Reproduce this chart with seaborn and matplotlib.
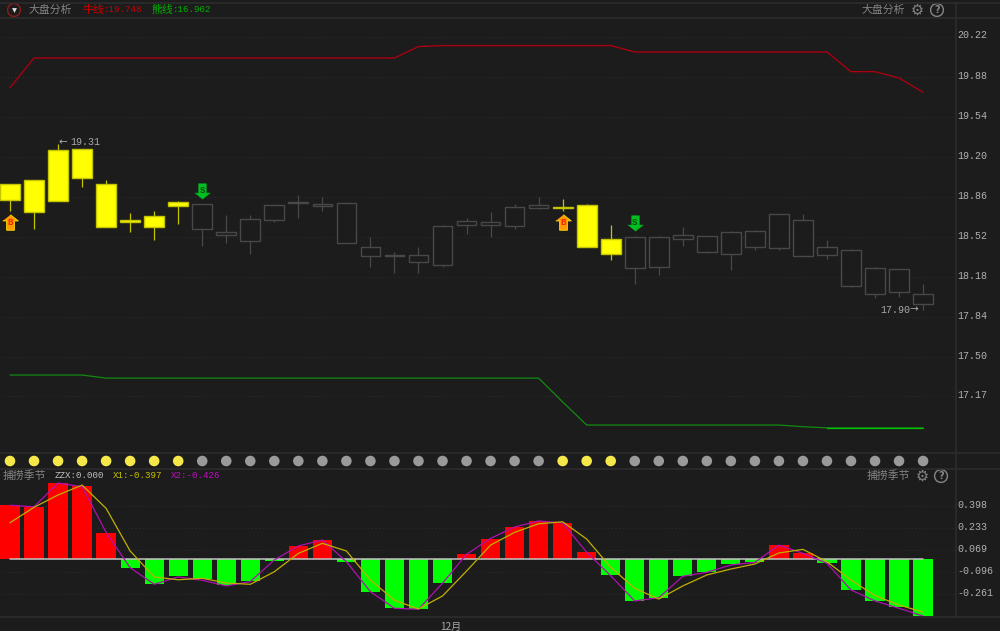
import matplotlib
matplotlib.use("Agg")
import matplotlib.pyplot as plt
import matplotlib.transforms as mtrans
import numpy as np
import pandas as pd
import seaborn as sns

# --- donnees ---
body_top = [18.969, 19.003, 19.258, 19.266, 18.969, 18.664, 18.698, 18.817, 18.800, 18.562, 18.673, 18.791, 18.817,
            18.800, 18.808, 18.435, 18.367, 18.367, 18.613, 18.656, 18.647, 18.774, 18.791, 18.774, 18.791, 18.503,
            18.520, 18.520, 18.537, 18.528, 18.562, 18.571, 18.715, 18.664, 18.435, 18.410, 18.257, 18.249, 18.037]
body_bot = [18.834, 18.732, 18.825, 19.020, 18.605, 18.647, 18.605, 18.783, 18.588, 18.537, 18.486, 18.664, 18.808,
            18.783, 18.469, 18.359, 18.359, 18.308, 18.283, 18.622, 18.622, 18.613, 18.766, 18.766, 18.435, 18.376,
            18.257, 18.266, 18.503, 18.393, 18.376, 18.435, 18.427, 18.359, 18.367, 18.104, 18.037, 18.054, 17.952]
high = [18.969, 19.003, 19.31, 19.266, 19.003, 18.723, 18.740, 18.825, 18.800, 18.706, 18.706, 18.800, 18.876,
        18.859, 18.817, 18.520, 18.393, 18.435, 18.622, 18.681, 18.732, 18.800, 18.859, 18.842, 18.800, 18.622,
        18.528, 18.528, 18.605, 18.528, 18.571, 18.579, 18.715, 18.715, 18.495, 18.418, 18.266, 18.249, 18.121]
low = [18.740, 18.588, 18.825, 18.944, 18.605, 18.562, 18.495, 18.630, 18.444, 18.469, 18.376, 18.647, 18.681,
       18.740, 18.469, 18.266, 18.215, 18.215, 18.266, 18.545, 18.520, 18.588, 18.757, 18.740, 18.435, 18.325,
       18.121, 18.198, 18.444, 18.384, 18.240, 18.410, 18.410, 18.359, 18.333, 18.096, 18.003, 18.011, 17.90]
hot_days = [0, 1, 2, 3, 4, 5, 6, 7, 23, 24, 25]
buy_days = [0, 23]
sell_days = [8, 26]

bull_line = [19.786, 20.038, 20.038, 20.038, 20.038, 20.038, 20.038, 20.038, 20.038, 20.038, 20.038, 20.038, 20.038,
             20.038, 20.038, 20.038, 20.038, 20.135, 20.143, 20.143, 20.143, 20.143, 20.143, 20.143, 20.143, 20.143,
             20.089, 20.089, 20.089, 20.089, 20.089, 20.089, 20.089, 20.089, 20.089, 19.922, 19.922, 19.868, 19.748]
bear_line = [17.350, 17.350, 17.350, 17.350, 17.324, 17.324, 17.324, 17.324, 17.324, 17.324, 17.324, 17.324, 17.324,
             17.324, 17.324, 17.324, 17.324, 17.324, 17.324, 17.324, 17.324, 17.324, 17.324, 17.122, 16.926, 16.926,
             16.926, 16.926, 16.926, 16.926, 16.926, 16.926, 16.926, 16.912, 16.902, 16.902, 16.902, 16.902, 16.902]

hist = [0.403, 0.388, 0.569, 0.545, 0.196, -0.069, -0.184, -0.125, -0.152, -0.196, -0.166, -0.015, 0.097,
        0.144, -0.022, -0.244, -0.368, -0.375, -0.179, 0.035, 0.152, 0.239, 0.286, 0.266, 0.050, -0.122,
        -0.311, -0.291, -0.129, -0.097, -0.040, -0.025, 0.104, 0.047, -0.032, -0.231, -0.311, -0.360, -0.426]
x1 = [0.271, 0.386, 0.478, 0.552, 0.378, 0.060, -0.134, -0.155, -0.144, -0.179, -0.189, -0.095, 0.042,
      0.117, 0.060, -0.157, -0.308, -0.373, -0.276, -0.090, 0.104, 0.199, 0.263, 0.278, 0.149, -0.062,
      -0.219, -0.299, -0.201, -0.119, -0.075, -0.037, 0.045, 0.072, -0.020, -0.157, -0.274, -0.343, -0.397]
x2 = [0.401, 0.390, 0.567, 0.540, 0.199, -0.065, -0.189, -0.134, -0.159, -0.201, -0.169, -0.007, 0.097,
      0.142, -0.020, -0.244, -0.368, -0.375, -0.181, 0.035, 0.154, 0.239, 0.284, 0.269, 0.050, -0.125,
      -0.313, -0.289, -0.129, -0.099, -0.045, -0.025, 0.104, 0.042, -0.032, -0.231, -0.313, -0.368, -0.426]

price_ticks = [20.22, 19.88, 19.54, 19.20, 18.86, 18.52, 18.18, 17.84, 17.50, 17.17]
price_labels = ["20.22", "19.88", "19.54", "19.20", "18.86", "18.52", "18.18", "17.84", "17.50", "17.17"]
macd_ticks = [0.398, 0.233, 0.069, -0.096, -0.261]
macd_labels = ["0.398", "0.233", "0.069", "-0.096", "-0.261"]

BG = "#1c1c1c"
GRID = "#343434"
SEP = "#2e2e2e"
CANDLE = "#484848"
MONO = "Liberation Mono"
CJK = "Noto Sans CJK SC"

sns.set_theme(style="dark", rc={"figure.facecolor": BG, "axes.facecolor": BG, "savefig.facecolor": BG})
plt.rcParams["font.family"] = [CJK, "DejaVu Sans"]

days = np.arange(len(hist))
df = pd.DataFrame({"day": days, "top": body_top, "bot": body_bot, "high": high, "low": low,
                   "bull": bull_line, "bear": bear_line, "hist": hist, "x1": x1, "x2": x2})
df["hot"] = df["day"].isin(hot_days)
df["sens"] = np.where(df["hist"] >= 0, "up", "down")
df["zero"] = 0.0

W, H = 1000, 631
fig = plt.figure(figsize=(W / 100, H / 100), dpi=100)


def px_axes(x0, y0, x1_, y1_):
    return fig.add_axes([x0 / W, 1 - y1_ / H, (x1_ - x0) / W, (y1_ - y0) / H])


ax = px_axes(0, 18, 956, 453)
strip = px_axes(0, 454, 956, 468)
ax2 = px_axes(0, 469, 956, 617)
xlim = (-0.416, 39.37)

# --- prix ---
wick_col = np.where(df["hot"], "#c4c400", CANDLE)
ax.vlines(df["day"], df["low"], df["high"], colors=wick_col, lw=0.9, zorder=2)
for hot, face, edge in [(True, "#ffff00", "#c4c400"), (False, BG, CANDLE)]:
    sub = df[df["hot"] == hot]
    ax.bar(sub["day"], sub["top"] - sub["bot"], bottom=sub["bot"], width=0.82,
           facecolor=face, edgecolor=edge, lw=1.0, zorder=3)
sns.lineplot(data=df, x="day", y="bull", color="#a80010", lw=1.0, errorbar=None, ax=ax)
sns.lineplot(data=df, x="day", y="bear", color="#128a12", lw=0.9, errorbar=None, ax=ax)
sns.lineplot(data=df[df["day"] >= 34], x="day", y="bear", color="#00c000", lw=0.9, errorbar=None, ax=ax)

# fleches B / S
up_arrow = [(0, 1), (1, 0.2), (0.5, 0.2), (0.5, -1), (-0.5, -1), (-0.5, 0.2), (-1, 0.2)]
down_arrow = [(x, -y) for x, y in up_arrow]
buy = df[df["day"].isin(buy_days)]
sell = df[df["day"].isin(sell_days)]
ax.scatter(buy["day"], buy["low"] - 0.093, marker=up_arrow, s=125, c="#ff9a00", edgecolors="#ffe000", lw=0.6, zorder=5)
ax.scatter(sell["day"], sell["high"] + 0.11, marker=down_arrow, s=125, c="#00c020", edgecolors="#00a018", lw=0.4, zorder=5)
for _, r in buy.iterrows():
    ax.text(r["day"], r["low"] - 0.098, "B", color="#ff2000", family=MONO, fontsize=6.5, fontweight="bold",
            ha="center", va="center", zorder=6)
for _, r in sell.iterrows():
    ax.text(r["day"], r["high"] + 0.118, "S", color="#0a4a14", family=MONO, fontsize=6.5, fontweight="bold",
            ha="center", va="center", zorder=6)

ax.text(2.02, 19.325, "←", color="#a8a8a8", family="DejaVu Sans", fontsize=7.5, ha="left", va="center")
ax.text(2.5, 19.325, "19.31", color="#a8a8a8", family=MONO, fontsize=7.2, ha="left", va="center")
ax.text(37.46, 17.905, "17.90", color="#a8a8a8", family=MONO, fontsize=7.2, ha="right", va="center", zorder=6)
ax.text(37.44, 17.905, "→", color="#a8a8a8", family="DejaVu Sans", fontsize=7.5, ha="left", va="center", zorder=6)

ax.set_xlim(*xlim)
ax.set_ylim(16.689, 20.377)
ax.set_xticks([])
ax.set_yticks(price_ticks)
ax.set_yticklabels(price_labels)

# --- bande des points ---
sns.scatterplot(x=df["day"], y=np.zeros(len(df)), hue=df["hot"], palette={True: "#f7e84a", False: "#9a9a9a"},
                s=58, linewidth=0, legend=False, ax=strip)
strip.set_xlim(*xlim)
strip.set_ylim(-1, 1)
strip.set_xticks([])
strip.set_yticks([])
strip.set_xlabel("")
strip.set_ylabel("")

# --- indicateur ---
sns.barplot(data=df, x="day", y="hist", hue="sens", palette={"up": "#ff0000", "down": "#00ff00"}, dodge=False,
            saturation=1, width=0.8, native_scale=True, legend=False, errorbar=None, linewidth=0, ax=ax2)
sns.lineplot(data=df, x="day", y="zero", color="#c4c4c4", lw=1.1, errorbar=None, ax=ax2)
sns.lineplot(data=df, x="day", y="x2", color="#b010b0", lw=0.9, errorbar=None, ax=ax2)
sns.lineplot(data=df, x="day", y="x1", color="#c0b000", lw=0.9, errorbar=None, ax=ax2)
ax2.set_xlim(*xlim)
ax2.set_ylim(-0.433, 0.672)
ax2.set_yticks(macd_ticks)
ax2.set_yticklabels(macd_labels)
ax2.set_xticks([])

lift = mtrans.ScaledTranslation(0, 1.5 / 72, fig.dpi_scale_trans)
for a in [ax, ax2]:
    a.yaxis.tick_right()
    a.grid(axis="y", color=GRID, lw=0.6, linestyle=(0, (1, 3.5)))
    a.grid(axis="x", visible=False)
    a.set_axisbelow(True)
    a.set_xlabel("")
    a.set_ylabel("")
    a.tick_params(axis="y", length=0, pad=1, labelcolor="#b0b0b0", labelsize=7.2)
    for lab in a.get_yticklabels():
        lab.set_family(MONO)
        lab.set_transform(lab.get_transform() + lift)
for a in [ax, strip, ax2]:
    for s in a.spines.values():
        s.set_visible(False)

# --- cadre et entetes, en pixels ---
ui = fig.add_axes([0, 0, 1, 1], facecolor="none")
ui.set_xlim(0, W)
ui.set_ylim(H, 0)
ui.axis("off")
for y in [3, 17.5, 453, 468.5, 617]:
    ui.plot([0, W], [y, y], color=SEP, lw=1.1)
ui.plot([956, 956], [3, 617], color=SEP, lw=1.1)

GREY = "#858585"
ui.scatter([14], [10], s=85, facecolors="none", edgecolors="#8a1c1c", lw=1.0)
ui.scatter([14], [10], s=12, marker="v", c="#e0e0e0", linewidths=0)
ui.text(29, 10, "大盘分析", color=GREY, fontsize=7.8, va="center")
ui.text(82, 10, "牛线", color="#c80000", fontsize=7.8, va="center")
ui.text(104, 10, ":19.748", color="#c80000", family=MONO, fontsize=6.6, va="center")
ui.text(151, 10, "熊线", color="#00b000", fontsize=7.8, va="center")
ui.text(173, 10, ":16.902", color="#00b000", family=MONO, fontsize=6.6, va="center")
ui.text(3, 476, "捕捞季节", color=GREY, fontsize=7.8, va="center")
ui.text(55, 476, "ZZX:0.000", color="#c0c0c0", family=MONO, fontsize=6.6, va="center")
ui.text(113, 476, "X1:-0.397", color="#c8c400", family=MONO, fontsize=6.6, va="center")
ui.text(171, 476, "X2:-0.426", color="#c010c0", family=MONO, fontsize=6.6, va="center")
ui.text(440, 626.5, "12月", color="#a8a8a8", fontsize=7.2, va="center")

for x_text, y_text, name, x_gear, x_help in [(862, 10, "大盘分析", 917, 937), (867, 476, "捕捞季节", 922, 941)]:
    ui.text(x_text, y_text, name, color=GREY, fontsize=7.8, va="center")
    ui.text(x_gear, y_text, "⚙", color=GREY, family="DejaVu Sans", fontsize=10.5, ha="center", va="center")
    ui.scatter([x_help], [y_text], s=85, facecolors="none", edgecolors=GREY, lw=1.0)
    ui.text(x_help, y_text, "?", color=GREY, family="DejaVu Sans", fontsize=7, fontweight="bold", ha="center", va="center")

fig.savefig("out.png", dpi=100)
